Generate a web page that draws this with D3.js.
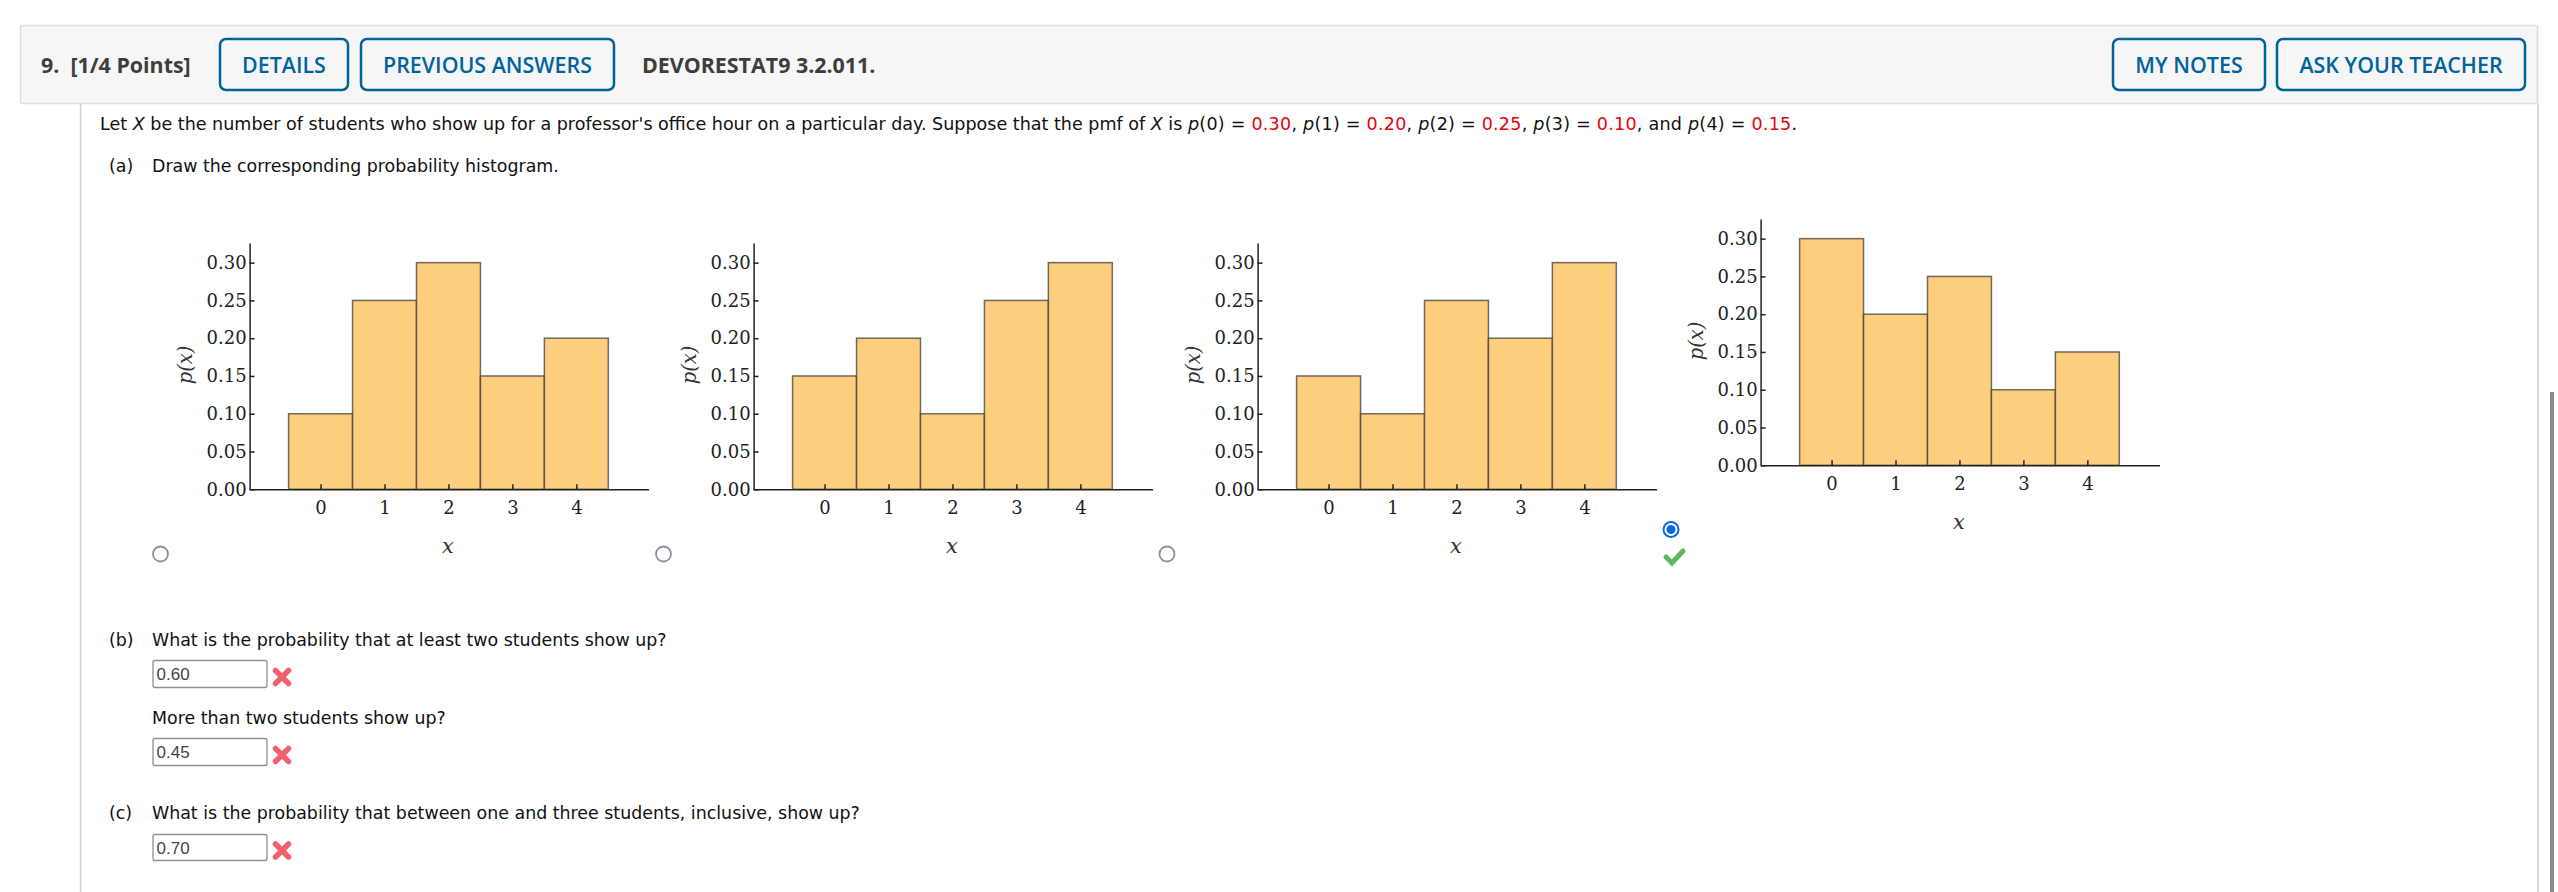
<!DOCTYPE html>
<html>
<head>
<meta charset="utf-8">
<script src="https://d3js.org/d3.v7.min.js"></script>
<style>
  html, body { margin: 0; padding: 0; background: #fff; overflow: hidden; }
  .grid-axis text { font-family: "DejaVu Serif", serif; font-size: 18px; fill: #222; }
  .grid-axis line, .grid-axis path { stroke: #222; stroke-width: 1.5; }
  .body-text { font-family: "DejaVu Sans", sans-serif; font-size: 17.4px; fill: #111; }
  .head-text { font-family: "Open Sans", sans-serif; font-size: 21.4px; font-weight: 600; white-space: pre; }
</style>
</head>
<body>
<svg id="page" width="2558" height="892"></svg>
<script>
// values
const categories = [0, 1, 2, 3, 4];
const yTicks = [0, 0.05, 0.10, 0.15, 0.20, 0.25, 0.30];
const optionA = [0.10, 0.25, 0.30, 0.15, 0.20];
const optionB = [0.15, 0.20, 0.10, 0.25, 0.30];
const optionC = [0.15, 0.10, 0.25, 0.20, 0.30];
const optionD = [0.30, 0.20, 0.25, 0.10, 0.15];
const pmfLabels = ["0.30", "0.20", "0.25", "0.10", "0.15"];

const svg = d3.select("#page");

// header bar
svg.append("rect").attr("x", 20.5).attr("y", 25.5).attr("width", 2517).attr("height", 78)
  .attr("rx", 2).attr("fill", "#f6f6f6").attr("stroke", "#dedede").attr("stroke-width", 1.5);

// content rules + scrollbar
svg.append("line").attr("x1", 80.5).attr("x2", 80.5).attr("y1", 104).attr("y2", 892)
  .attr("stroke", "#cfcfcf").attr("stroke-width", 1.5);
svg.append("line").attr("x1", 2538).attr("x2", 2538).attr("y1", 104).attr("y2", 892)
  .attr("stroke", "#cfcfcf").attr("stroke-width", 1.5);
svg.append("rect").attr("x", 2550).attr("y", 392).attr("width", 4).attr("height", 500)
  .attr("fill", "#888");

function headText(x, label, color, anchor, weight) {
  svg.append("text").attr("class", "head-text")
    .attr("x", x).attr("y", 72.5)
    .attr("text-anchor", anchor || "middle")
    .attr("fill", color)
    .style("font-weight", weight || 600)
    .text(label);
}

function button(x0, x1, label) {
  svg.append("rect").attr("x", x0).attr("y", 39).attr("width", x1 - x0).attr("height", 51)
    .attr("rx", 6).attr("fill", "none").attr("stroke", "#00649b").attr("stroke-width", 2.5);
  headText((x0 + x1) / 2, label, "#00649b");
}

headText(41, "9.  [1/4 Points]", "#3d3d3d", "start", 700);
button(220, 348, "DETAILS");
button(361, 614, "PREVIOUS ANSWERS");
headText(642, "DEVORESTAT9 3.2.011.", "#3d3d3d", "start", 700);
button(2113, 2265, "MY NOTES");
button(2277, 2525, "ASK YOUR TEACHER");

// inline text, runs of [string, style]
function textLine(x, y, runs, size) {
  let t = svg.append("text").attr("class", "body-text").attr("x", x).attr("y", y)
    .style("white-space", "pre");
  if (size) t.style("font-size", size + "px");
  runs.forEach(function (r) {
    let s = t.append("tspan").text(r[0]);
    if (r[1] === "i") s.attr("font-style", "italic");
    if (r[1] === "r") s.attr("fill", "#e8000d");
    if (r[2]) s.attr("letter-spacing", r[2]);
  });
}

let pmfRuns = [["Let "], ["X", "i"], [" be the number of students who show up for a professor's office hour on a particular day. Suppose that the pmf of "], ["X", "i"], [" is "]];
let tailGap = 0.24;
pmfLabels.forEach(function (lab, i) {
  if (i == 4) pmfRuns.push(["and ", "", tailGap]);
  pmfRuns.push(["p", "i", tailGap]);
  pmfRuns.push(["(" + categories[i] + ") = ", "", tailGap]);
  pmfRuns.push([lab, "r", tailGap]);
  pmfRuns.push([i == 4 ? "." : ", ", "", tailGap]);
});
textLine(100, 130, pmfRuns, 17.55);

textLine(109, 172, [["(a)"]]);
textLine(152, 172, [["Draw the corresponding probability histogram."]]);
textLine(109, 646, [["(b)"]]);
textLine(152, 646, [["What is the probability that at least two students show up?"]]);
textLine(152, 724, [["More than two students show up?"]]);
textLine(109, 819, [["(c)"]]);
textLine(152, 819, [["What is the probability that between one and three students, inclusive, show up?"]]);

// answer boxes
function answerBox(y0, y1, value) {
  svg.append("rect").attr("x", 153).attr("y", y0).attr("width", 114).attr("height", y1 - y0)
    .attr("rx", 2).attr("fill", "#fff").attr("stroke", "#8f8f9d").attr("stroke-width", 1.3);
  svg.append("text").attr("x", 156.5).attr("y", (y0 + y1) / 2 + 6)
    .attr("font-family", "Liberation Sans, sans-serif").attr("font-size", 17).attr("fill", "#444")
    .text(value);
  // red cross
  let cy = (y0 + y1) / 2 + 3;
  let g = svg.append("g").attr("transform", "translate(282," + cy + ")")
    .attr("stroke", "#f4606c").attr("stroke-width", 5.5).attr("stroke-linecap", "round");
  g.append("line").attr("x1", -6.5).attr("y1", -6.5).attr("x2", 6.5).attr("y2", 6.5);
  g.append("line").attr("x1", 6.5).attr("y1", -6.5).attr("x2", -6.5).attr("y2", 6.5);
}
answerBox(660.5, 687.5, "0.60");
answerBox(738.5, 765.5, "0.45");
answerBox(834.5, 860.5, "0.70");

// histogram, one per option
function histogram(values, dx, dy) {
  let g = svg.append("g").attr("transform", "translate(" + dx + "," + dy + ")");

  let xScale = d3.scaleLinear().domain([-1.11, 5.13]).range([249.6, 648.6]);
  let yScale = d3.scaleLinear().domain([0, 0.326]).range([489.3, 243]);

  g.selectAll("rect.bar")
    .data(values)
    .enter().append("rect")
    .attr("class", "bar")
    .attr("x", function (d, i) { return xScale(categories[i] - 0.5); })
    .attr("y", function (d) { return yScale(d); })
    .attr("width", function (d, i) { return xScale(categories[i] + 0.5) - xScale(categories[i] - 0.5); })
    .attr("height", function (d) { return yScale(0) - yScale(d); })
    .attr("fill", "#fdce7e")
    .attr("stroke", "#333")
    .attr("stroke-opacity", 0.7)
    .attr("stroke-width", 1.5);

  let xAxis = d3.axisBottom(xScale)
    .tickValues(categories)
    .tickSize(-5)
    .tickSizeOuter(0)
    .tickPadding(12)
    .tickFormat(d3.format("d"));

  let yAxis = d3.axisLeft(yScale)
    .tickValues(yTicks)
    .tickSize(-5)
    .tickSizeOuter(0)
    .tickPadding(3)
    .tickFormat(d3.format(".2f"));

  g.append("g").attr("class", "grid-axis")
    .attr("transform", "translate(0," + yScale(0) + ")")
    .call(xAxis);
  g.append("g").attr("class", "grid-axis")
    .attr("transform", "translate(" + xScale(-1.11) + ",0)")
    .call(yAxis);

  g.append("text").attr("x", 448).attr("y", 553).attr("text-anchor", "middle")
    .attr("font-family", "DejaVu Serif, serif").attr("font-style", "italic")
    .attr("font-size", 21).attr("fill", "#333").text("x");

  g.append("text").attr("transform", "translate(192,365) rotate(-90)").attr("text-anchor", "middle")
    .attr("font-family", "DejaVu Serif, serif").attr("font-style", "italic")
    .attr("font-size", 19.5).attr("fill", "#333").text("p(x)");
}
histogram(optionA, 0, 0);
histogram(optionB, 504, 0);
histogram(optionC, 1008, 0);
histogram(optionD, 1511, -24);

// radios
[160.5, 663.5, 1167].forEach(function (cx) {
  svg.append("circle").attr("cx", cx).attr("cy", 554).attr("r", 7.5)
    .attr("fill", "#fff").attr("stroke", "#8f8f9d").attr("stroke-width", 1.8);
});
svg.append("circle").attr("cx", 1671).attr("cy", 529.5).attr("r", 7.5)
  .attr("fill", "#fff").attr("stroke", "#0b68e0").attr("stroke-width", 2);
svg.append("circle").attr("cx", 1671).attr("cy", 529.5).attr("r", 4.5).attr("fill", "#0b68e0");

// green tick
svg.append("path").attr("d", "M1666 557 L1672 563 L1683 551")
  .attr("fill", "none").attr("stroke", "#5cb85c").attr("stroke-width", 5).attr("stroke-linecap", "round");
</script>
</body>
</html>
